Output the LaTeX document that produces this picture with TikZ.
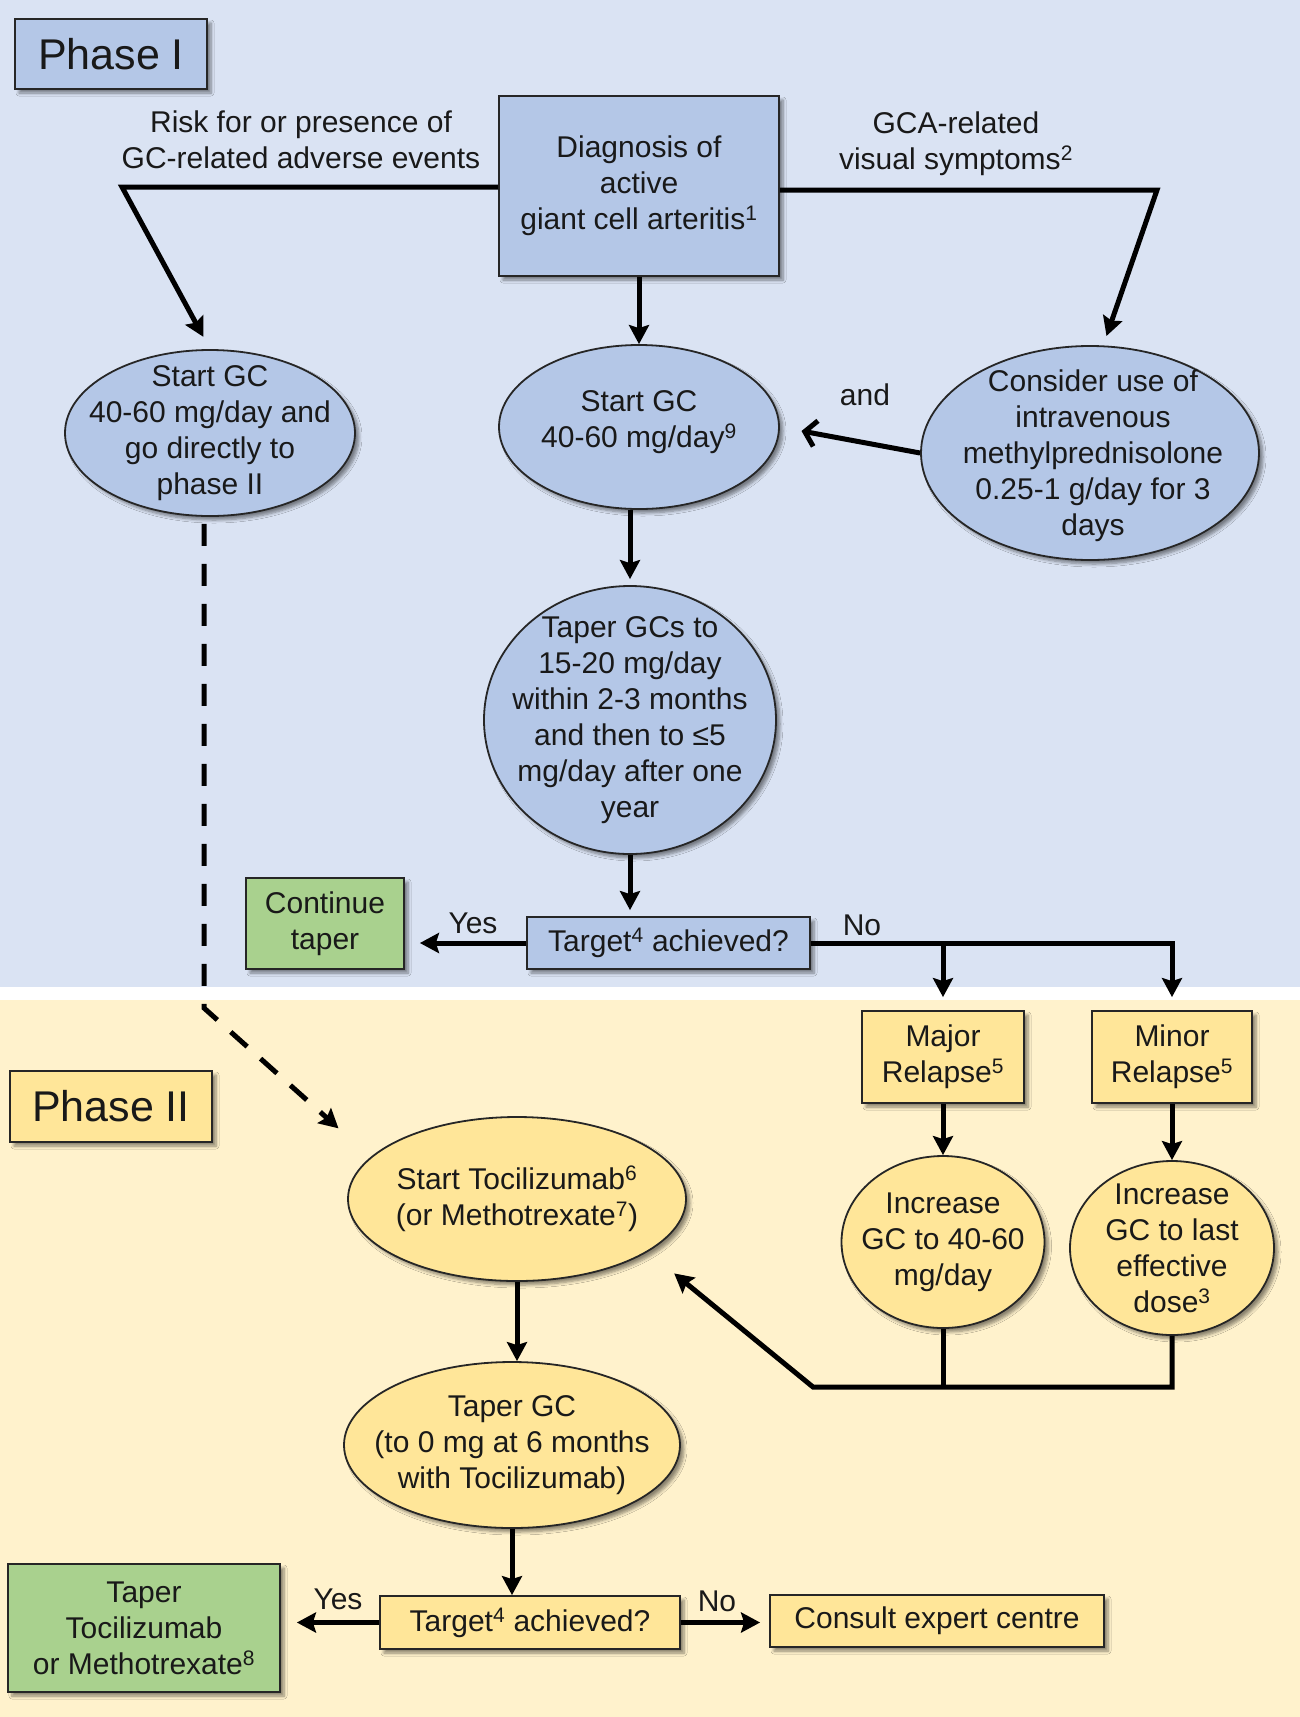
\documentclass[tikz,border=0pt]{standalone}
\usepackage{fontspec}
\setmainfont{Liberation Sans}
\usetikzlibrary{arrows.meta,shapes.geometric,shadows.blur,calc}
\definecolor{bgblue}{HTML}{DAE3F3}
\definecolor{bgyel}{HTML}{FFF2CC}
\definecolor{nblue}{HTML}{B4C7E7}
\definecolor{nyel}{HTML}{FFE699}
\definecolor{ngreen}{HTML}{A9D18E}
\definecolor{edgec}{HTML}{262626}
\begin{document}
\begin{tikzpicture}[x=1pt,y=-1pt,
  txt/.style={font=\fontsize{30}{36}\selectfont, align=center, inner sep=0pt, text=black!90},
  shad/.style={blur shadow={shadow xshift=4pt, shadow yshift=-4pt, shadow blur steps=6, shadow opacity=45, shadow blur radius=3pt}},
  box/.style={rectangle, draw=edgec, line width=1.8pt, shad, inner sep=2pt, align=center, text=black!90, font=\fontsize{30}{36}\selectfont},
  bbox/.style={box, fill=nblue}, ybox/.style={box, fill=nyel}, gbox/.style={box, fill=ngreen},
  ell/.style={ellipse, draw=edgec, line width=1.8pt, shad, inner sep=0pt},
  bell/.style={ell, fill=nblue}, yell/.style={ell, fill=nyel},
  conn/.style={line width=5pt, -{Stealth[length=19pt,width=20pt,inset=3pt]}},
  plainc/.style={line width=5pt},
  ]
\useasboundingbox (0,0) rectangle (1300,1717);
\fill[white] (0,0) rectangle (1300,1717);
\fill[bgblue] (0,0) rectangle (1300,987);
\fill[bgyel] (0,1000) rectangle (1300,1717);

% Phase I
\node[bbox, minimum width=192pt, minimum height=70pt, font=\fontsize{43}{50}\selectfont] (ph1) at (111,54) {Phase I};
\node[bbox, minimum width=280pt, minimum height=180pt] (diag) at (639,186) {Diagnosis of\\active\\giant cell arteritis\textsuperscript{1}};

\node[txt] (risk) at (301,140) {Risk for or presence of\\GC-related adverse events};
\node[txt] (gca) at (956,144) {GCA-related\\visual symptoms\textsuperscript{2}};

\node[bell, minimum width=290pt, minimum height=166pt] (lell) at (210,433) {};
\node[txt] (lellt) at (lell) {Start GC\\40-60 mg/day and\\go directly to\\phase II};

\node[bell, minimum width=280pt, minimum height=164pt] (sgc) at (639,427) {};
\node[txt] (sgct) at (639,422) {Start GC\\40-60 mg/day\textsuperscript{9}};

\node[bell, minimum width=338pt, minimum height=214pt] (rell) at (1090,453) {};
\node[txt] (rellt) at (1093,456) {Consider use of\\intravenous\\methylprednisolone\\0.25-1 g/day for 3\\days};

\node[txt] (andl) at (865,395) {and};

\node[bell, minimum width=292pt, minimum height=268pt] (tap) at (630,720) {};
\node[txt] (tapt) at (tap) {Taper GCs to\\15-20 mg/day\\within 2-3 months\\and then to ≤5\\mg/day after one\\year};

\node[bbox, minimum width=283pt, minimum height=52pt] (tgt1) at (668.5,943) {Target\textsuperscript{4} achieved?};
\node[gbox, minimum width=158pt, minimum height=91pt] (cont) at (325,923.5) {Continue\\taper};
\node[txt] (yes1) at (473,923) {Yes};
\node[txt] (no1) at (862,925) {No};

% Phase II
\node[ybox, minimum width=202pt, minimum height=71pt, font=\fontsize{43}{50}\selectfont] (ph2) at (111,1106.5) {Phase II};
\node[ybox, minimum width=162pt, minimum height=92pt] (maj) at (943,1057) {Major\\Relapse\textsuperscript{5}};
\node[ybox, minimum width=160pt, minimum height=92pt] (min) at (1172,1057) {Minor\\Relapse\textsuperscript{5}};

\node[yell, minimum width=203pt, minimum height=172pt] (majE) at (943,1242) {};
\node[txt] (majEt) at (majE) {Increase\\GC to 40-60\\mg/day};
\node[yell, minimum width=204pt, minimum height=174pt] (minE) at (1172,1248) {};
\node[txt] (minEt) at (minE) {Increase\\GC to last\\effective\\dose\textsuperscript{3}};

\node[yell, minimum width=338pt, minimum height=164pt] (toc) at (517,1199) {};
\node[txt] (toct) at (toc) {Start Tocilizumab\textsuperscript{6}\\(or Methotrexate\textsuperscript{7})};

\node[yell, minimum width=336pt, minimum height=166pt] (tgc) at (512,1445) {};
\node[txt] (tgct) at (tgc) {Taper GC\\(to 0 mg at 6 months\\with Tocilizumab)};

\node[ybox, minimum width=300pt, minimum height=53pt] (tgt2) at (530,1622.5) {Target\textsuperscript{4} achieved?};
\node[gbox, minimum width=272pt, minimum height=128pt] (tt) at (144,1628) {Taper\\Tocilizumab\\or Methotrexate\textsuperscript{8}};
\node[ybox, minimum width=334pt, minimum height=52pt] (cons) at (937,1621) {Consult expert centre};
\node[txt] (yes2) at (338,1599) {Yes};
\node[txt] (no2) at (717,1601) {No};

% connectors
\coordinate (kl) at (122,187);
\coordinate (kr) at (1157,190);
\draw[conn, shorten >=14pt] (diag.west |- kl) -- (kl) -- (lell.north);
\draw[conn, shorten >=10pt] (diag.east |- kr) -- (kr) -- (rell.83);
\draw[conn] (diag.south) -- (sgc.north);
\draw[line width=5pt, -{Straight Barb[length=11pt,width=26pt]}, shorten >=22pt] (rell.west) -- (sgc.east);
\draw[conn, shorten >=6pt] (tap.north |- sgc.south) -- (tap.north);
\draw[conn, shorten >=6pt] (tap.south) -- (tap.south |- tgt1.north);
\draw[conn, shorten >=15pt] (tgt1.west) -- (tgt1.west -| cont.east);
\draw[conn, shorten >=13pt] (tgt1.east) -- (tgt1.east -| min.north) -- (min.north);
\draw[conn, shorten >=13pt] (tgt1.east -| maj.north) -- (maj.north);
\draw[conn] (maj.south) -- (majE.north);
\draw[conn] (min.south) -- (minE.north);
\coordinate (bl) at (813,1387);
\draw[plainc] (majE.south) -- (majE.south |- bl);
\draw[conn, shorten >=34pt] (minE.south) -- (minE.south |- bl) -- (bl) -- (toc.-22);
\coordinate (dc) at (204,1008);
\draw[conn, dash pattern=on 22pt off 18pt, shorten <=7pt, shorten >=43pt] (dc |- lell.south) -- (dc) -- (toc.164);
\draw[conn] (toc.south) -- (toc.south |- tgc.north);
\draw[conn] (tgc.south) -- (tgc.south |- tgt2.north);
\draw[conn, shorten >=16pt] (tgt2.west) -- (tgt2.west -| tt.east);
\draw[conn, shorten >=9pt] (tgt2.east) -- (tgt2.east -| cons.west);
\end{tikzpicture}
\end{document}
